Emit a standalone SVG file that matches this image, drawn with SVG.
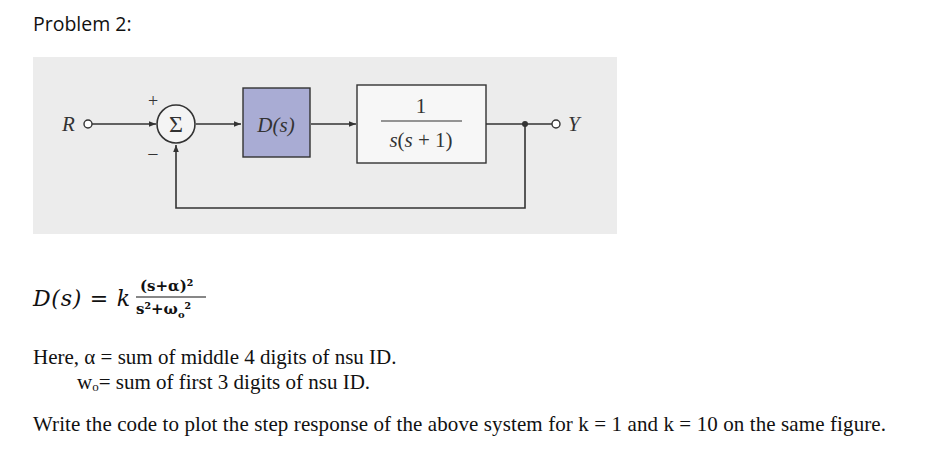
<svg xmlns="http://www.w3.org/2000/svg" width="932" height="476" viewBox="0 0 932 476">
<defs>
<marker id="ah" viewBox="0 0 10 10" refX="10" refY="5" markerWidth="7" markerHeight="7" orient="auto" markerUnits="userSpaceOnUse"><path d="M0,1 L10,5 L0,9 z" fill="#333"/></marker>
</defs>
<style>
.ln{stroke:#333;stroke-width:1.6;fill:none}
.sr{font-family:"Liberation Serif",serif;fill:#333}
.tx{font-family:"Liberation Serif",serif;fill:#111;font-size:21px}
</style>
<rect width="932" height="476" fill="#fff"/>
<text x="33" y="31" font-family="Open Sans,sans-serif" font-size="19.5" fill="#111">Problem 2:</text>
<rect x="33" y="57" width="584" height="177" fill="#ececec"/>
<g id="connectors">
<path class="ln" d="M92,124 H156" marker-end="url(#ah)"/>
<path class="ln" d="M196,124 H241" marker-end="url(#ah)"/>
<path class="ln" d="M311,124 H356" marker-end="url(#ah)"/>
<path class="ln" d="M486,124 H552"/>
<path class="ln" d="M525,124 V208 H176 V145" marker-end="url(#ah)"/>
<circle cx="525" cy="124" r="3" fill="#333"/>
</g>
<g id="R"><circle cx="88" cy="124" r="4" fill="#fff" stroke="#333" stroke-width="1.4"/><text class="sr" x="62" y="131" font-size="21" font-style="italic">R</text></g>
<g id="sum"><circle cx="176" cy="124" r="19" fill="#f4f4f4" stroke="#333" stroke-width="1.6"/><text class="sr" x="176" y="132" font-size="24" text-anchor="middle">Σ</text>
<text class="sr" x="153" y="107" font-size="18" text-anchor="middle">+</text><text class="sr" x="153" y="161" font-size="20" text-anchor="middle">−</text></g>
<g id="D"><rect x="243" y="88" width="67" height="69" fill="#a9acd4" stroke="#333" stroke-width="1.4"/><text class="sr" x="276" y="132" font-size="21" font-style="italic" text-anchor="middle">D(s)</text></g>
<g id="plant"><rect x="357" y="85" width="129" height="78" fill="#f7f7f7" stroke="#333" stroke-width="1.4"/><text class="sr" x="421" y="113" font-size="21" text-anchor="middle">1</text><line x1="381" y1="121" x2="462" y2="121" stroke="#333" stroke-width="1.2"/><text class="sr" x="421" y="147" font-size="21" text-anchor="middle"><tspan font-style="italic">s</tspan>(<tspan font-style="italic">s</tspan> + 1)</text></g>
<g id="Y"><circle cx="556" cy="124" r="4" fill="#fff" stroke="#333" stroke-width="1.4"/><text class="sr" x="568" y="131" font-size="21" font-style="italic">Y</text></g>
<g id="eq" font-family="DejaVu Serif,serif" fill="#111">
<text x="33" y="306" font-size="22" font-style="italic" textLength="97">D(s) = k</text>
<text x="140" y="291" font-size="15" font-weight="bold">(s+α)²</text>
<line x1="136" y1="297" x2="206" y2="297" stroke="#111" stroke-width="1.2"/>
<text x="136" y="314" font-size="15" font-weight="bold">s²+ω<tspan font-size="10" dy="4">o</tspan><tspan dy="-4">²</tspan></text>
</g>
<text class="tx" x="33" y="364">Here, α = sum of middle 4 digits of nsu ID.</text>
<text class="tx" x="77" y="389">w<tspan font-size="13" dy="2">o</tspan><tspan dy="-2">= sum of first 3 digits of nsu ID.</tspan></text>
<text class="tx" x="33" y="431" textLength="853">Write the code to plot the step response of the above system for k = 1 and k = 10 on the same figure.</text>
</svg>
